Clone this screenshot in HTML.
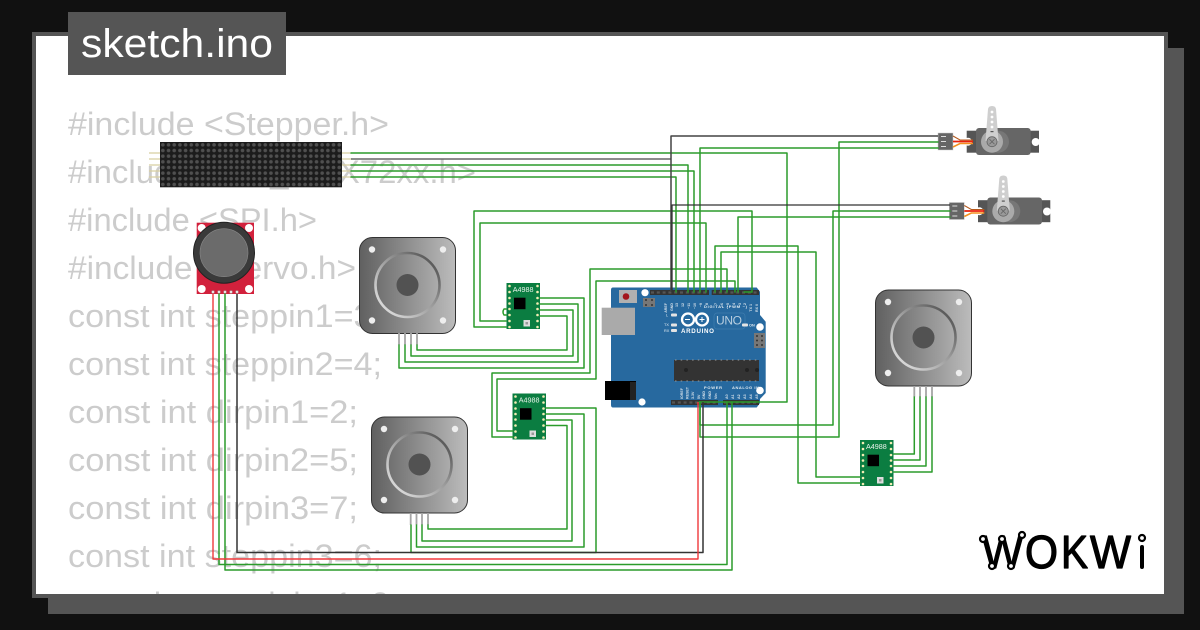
<!DOCTYPE html>
<html>
<head>
<meta charset="utf-8">
<style>
html,body{margin:0;padding:0;background:#111;width:1200px;height:630px;overflow:hidden}
svg{display:block}
.code{font-family:"Liberation Sans",sans-serif;font-size:32px;fill:#ccc}
.w{fill:none;stroke:#2b9c2b;stroke-width:1.5;stroke-linejoin:round;stroke-linecap:round}
.lb{font-family:"Liberation Sans",sans-serif;font-size:3.6px;font-weight:bold;fill:#d5e0ea}
.a{font-family:"Liberation Sans",sans-serif;font-size:7.2px;fill:#e8f2ea}
</style>
</head>
<body>
<svg xmlns="http://www.w3.org/2000/svg" width="1200" height="630" viewBox="0 0 1200 630">
<defs>
<clipPath id="fr"><rect x="36" y="36" width="1128" height="558"/></clipPath>
<pattern id="mx" patternUnits="userSpaceOnUse" x="160" y="142" width="5.69" height="5.66">
<rect width="5.69" height="5.66" fill="#1c1c1c"/><circle cx="2.85" cy="2.83" r="1.8" fill="#505050"/>
</pattern>
<linearGradient id="mg" x1="0" y1="0" x2="1" y2="0"><stop offset="0" stop-color="#606060"/><stop offset="1" stop-color="#bcbcbc"/></linearGradient>
<linearGradient id="ring" x1="0" y1="1" x2="1" y2="0"><stop offset="0" stop-color="#ececec"/><stop offset=".55" stop-color="#999"/><stop offset="1" stop-color="#404040"/></linearGradient>
<g id="motor">
<rect x="0.5" y="0.5" width="96" height="96" rx="13" fill="url(#mg)" stroke="#333" stroke-width="1"/>
<circle cx="13" cy="12.5" r="3.2" fill="#eee"/><circle cx="84" cy="12.5" r="3.2" fill="#eee"/>
<circle cx="13" cy="83.5" r="3.2" fill="#eee"/><circle cx="84" cy="83.5" r="3.2" fill="#eee"/>
<circle cx="48.5" cy="48" r="32" fill="none" stroke="url(#ring)" stroke-width="2.6"/>
<circle cx="48.5" cy="48" r="11" fill="#525252"/>
</g>
<g id="drv">
<rect width="33.5" height="46" fill="#0b7d41"/>
<g fill="#f4edb4">
<circle cx="3" cy="3" r="1.3"/><circle cx="3" cy="9" r="1.3"/><circle cx="3" cy="15" r="1.3"/><circle cx="3" cy="20.5" r="1.3"/><circle cx="3" cy="26" r="1.3"/><circle cx="3" cy="32" r="1.3"/><circle cx="3" cy="38" r="1.3"/><circle cx="3" cy="44" r="1.3"/>
<circle cx="31" cy="3" r="1.3"/><circle cx="31" cy="9" r="1.3"/><circle cx="31" cy="15" r="1.3"/><circle cx="31" cy="20.5" r="1.3"/><circle cx="31" cy="26" r="1.3"/><circle cx="31" cy="32" r="1.3"/><circle cx="31" cy="38" r="1.3"/><circle cx="31" cy="44" r="1.3"/>
</g>
<rect x="7.5" y="14.7" width="11.5" height="11.5" fill="#000"/>
<rect x="17" y="37" width="6.5" height="6.5" fill="#ddd"/><rect x="19" y="39" width="2.5" height="2.5" fill="#999"/>
</g>
<g id="servo">
<rect x="0" y="0" width="15" height="17" fill="#666" stroke="#ccc" stroke-width=".5"/>
<rect x="3" y="3" width="5" height="1" fill="#ddd"/><rect x="3" y="8" width="5" height="1" fill="#ddd"/><rect x="3" y="13" width="5" height="1" fill="#ddd"/>
<rect x="28.7" y="-2.3" width="72.3" height="22" fill="#555"/>
<circle cx="30" cy="8.7" r="4" fill="#fff"/>
<path d="M15,3 L22,7 H35" fill="none" stroke="#b5591c" stroke-width="1.1"/>
<path d="M15,8.5 H35" fill="none" stroke="#e8200c" stroke-width="1.8"/>
<path d="M15,14 L22,10.5 H35" fill="none" stroke="#f5901e" stroke-width="1.6"/>
<rect x="38" y="-5" width="54.7" height="27" rx="3" fill="#666"/>
<circle cx="97.7" cy="9" r="4" fill="#fff"/><rect x="97.7" y="7.5" width="4" height="3" fill="#fff"/>
<circle cx="60" cy="8.7" r="11" fill="#777"/>
<circle cx="54" cy="8.7" r="11" fill="#aaa"/>
<path d="M47.5,8 L50,-24 Q50.5,-27 54,-27 Q57.5,-27 58,-24 L60.5,8 Z" fill="#cfcfcf"/>
<circle cx="54" cy="-21" r="1.4" fill="#fff"/><circle cx="54" cy="-16" r="1.4" fill="#fff"/><circle cx="54" cy="-11" r="1.4" fill="#fff"/><circle cx="54" cy="-6" r="1.4" fill="#fff"/><rect x="52.5" y="-2" width="3" height="1.2" fill="#555"/>
<circle cx="54" cy="8.7" r="5" fill="#999" stroke="#666" stroke-width=".8"/>
<path d="M51.5,6.2 L56.5,11.2 M56.5,6.2 L51.5,11.2" stroke="#666" stroke-width=".8"/>
</g>
</defs>

<rect width="1200" height="630" fill="#111"/>
<rect x="48" y="48" width="1136" height="566" fill="#555"/>
<rect x="34" y="34" width="1132" height="562" fill="#fff" stroke="#555" stroke-width="4"/>

<g clip-path="url(#fr)">
<text class="code" x="68" y="135" textLength="321" lengthAdjust="spacingAndGlyphs">#include &lt;Stepper.h&gt;</text>
<text class="code" x="68" y="183" textLength="408" lengthAdjust="spacingAndGlyphs">#include &lt;MD_MAX72xx.h&gt;</text>
<text class="code" x="68" y="231" textLength="249" lengthAdjust="spacingAndGlyphs">#include &lt;SPI.h&gt;</text>
<text class="code" x="68" y="279" textLength="288" lengthAdjust="spacingAndGlyphs">#include &lt;Servo.h&gt;</text>
<text class="code" x="68" y="327" textLength="314" lengthAdjust="spacingAndGlyphs">const int steppin1=3;</text>
<text class="code" x="68" y="375" textLength="314" lengthAdjust="spacingAndGlyphs">const int steppin2=4;</text>
<text class="code" x="68" y="423" textLength="290" lengthAdjust="spacingAndGlyphs">const int dirpin1=2;</text>
<text class="code" x="68" y="471" textLength="290" lengthAdjust="spacingAndGlyphs">const int dirpin2=5;</text>
<text class="code" x="68" y="519" textLength="290" lengthAdjust="spacingAndGlyphs">const int dirpin3=7;</text>
<text class="code" x="68" y="567" textLength="314" lengthAdjust="spacingAndGlyphs">const int steppin3=6;</text>
<text class="code" x="68" y="615" textLength="330" lengthAdjust="spacingAndGlyphs">const int stepdelay1=2;</text>
</g>

<!-- title -->
<rect x="68" y="12" width="218" height="63" fill="#555"/>
<text x="81" y="57" font-family="'Liberation Sans',sans-serif" font-size="40" fill="#fff" textLength="192" lengthAdjust="spacingAndGlyphs">sketch.ino</text>

<!-- matrix -->
<g stroke="#d8cfa0" stroke-width="1.3">
<path d="M149,153H160M149,159H160M149,165H160M149,171H160M149,177H160"/>
<path d="M342,153H352M342,159H352M342,165H352M342,171H352M342,177H352"/>
</g>
<rect x="160" y="142" width="182" height="45.3" fill="url(#mx)"/>

<!-- joystick -->
<rect x="196.7" y="222.7" width="57.3" height="71.3" fill="#d2213c"/>
<circle cx="201.7" cy="228" r="4" fill="#fff"/><circle cx="249" cy="228" r="4" fill="#fff"/>
<circle cx="201.7" cy="289" r="4" fill="#fff"/><circle cx="249" cy="289" r="4" fill="#fff"/>
<g fill="#eee" stroke="#b08a8a" stroke-width=".6"><circle cx="213" cy="292" r="1.4"/><circle cx="219" cy="292" r="1.4"/><circle cx="225" cy="292" r="1.4"/><circle cx="231" cy="292" r="1.4"/><circle cx="237" cy="292" r="1.4"/></g>
<circle cx="224" cy="252.7" r="30.5" fill="#3a3a3a" stroke="#222" stroke-width="1"/>
<circle cx="224" cy="252.7" r="24" fill="#6b6b6b" stroke="#888" stroke-width=".6"/>

<!-- motors -->
<use href="#motor" x="359" y="237"/>
<use href="#motor" x="371" y="416.5"/>
<use href="#motor" x="875" y="289.5"/>
<g stroke="#a5a5a5" stroke-width="1.8">
<path d="M399,333V345M405,333V345M411,333V345M417,333V345"/>
<path d="M410.7,513V525M416.5,513V525M422,513V525M428,513V525"/>
<path d="M914.3,386V397M920,386V397M926,386V397M932,386V397"/>
</g>

<!-- drivers -->
<use href="#drv" x="506.5" y="283"/>
<use href="#drv" x="512.5" y="393.5"/>
<use href="#drv" x="860" y="440"/>
<text class="a" x="512.7" y="292">A4988</text>
<text class="a" x="518.7" y="402.5">A4988</text>
<text class="a" x="866" y="449">A4988</text>

<!-- board -->
<path d="M613,287.5 H756.7 L760,291.7 V315 L765.7,321.7 V393 L760,399 V403 L756.7,407.5 H613 Q611,407.5 611,405 V290 Q611,287.5 613,287.5 Z" fill="#27699f"/>
<rect x="601.7" y="307.7" width="33.3" height="27.3" fill="#aaa"/>
<rect x="605" y="381" width="31" height="19" fill="#000"/><rect x="630" y="382" width="6" height="18" fill="#222"/>
<rect x="619" y="290" width="18" height="13" fill="#b0b0b0"/><circle cx="626" cy="296.5" r="3.3" fill="#a3161c"/>
<circle cx="645" cy="292.7" r="3.6" fill="#fff"/><circle cx="760" cy="327" r="3.8" fill="#fff"/><circle cx="760" cy="390.5" r="3.8" fill="#fff"/><circle cx="642" cy="402" r="3.6" fill="#fff"/>
<g fill="#333"><rect x="650" y="290" width="59" height="5"/><rect x="711.7" y="290" width="47.3" height="5"/><rect x="671" y="400" width="47" height="5"/><rect x="723" y="400" width="36" height="5"/></g>
<g stroke="#555" stroke-width="2.2" stroke-dasharray="3 2.8"><path d="M651,292.5H708M713,292.5H758M672,402.5H717M724,402.5H758"/></g>
<g fill="#777"><rect x="643" y="298" width="12" height="9"/><rect x="754" y="333" width="11" height="15"/></g>
<g fill="#333"><circle cx="646" cy="300" r="1"/><circle cx="652" cy="300" r="1"/><circle cx="646" cy="305" r="1"/><circle cx="652" cy="305" r="1"/><circle cx="757" cy="336" r="1"/><circle cx="762" cy="336" r="1"/><circle cx="757" cy="340.5" r="1"/><circle cx="762" cy="340.5" r="1"/><circle cx="757" cy="345" r="1"/><circle cx="762" cy="345" r="1"/></g>
<rect x="674" y="360" width="85" height="21" fill="#333"/>
<g stroke="#999" stroke-width="1" stroke-dasharray="1.5 4.2"><path d="M675,360H759M675,381H759"/></g>
<circle cx="686" cy="370" r="2" fill="#222"/><circle cx="747" cy="370" r="2" fill="#222"/><circle cx="757" cy="370" r="2" fill="#222"/>
<circle cx="688" cy="319.5" r="6" fill="none" stroke="#fff" stroke-width="2.3"/><circle cx="702" cy="319.5" r="6" fill="none" stroke="#fff" stroke-width="2.3"/>
<path d="M685,319.5h5M699.5,319.5h5M702,317v5" stroke="#fff" stroke-width="1"/>
<text x="681" y="333" font-family="'Liberation Sans',sans-serif" font-size="6.2" font-weight="bold" fill="#fff" textLength="33">ARDUINO</text>
<rect x="714" y="313" width="31" height="16" rx="3" fill="none" stroke="#3f7dae" stroke-width=".7"/>
<text x="716" y="324.5" font-family="'Liberation Sans',sans-serif" font-size="12" fill="#b9cfe0" textLength="26">UNO</text>
<text x="704" y="308" font-family="'Liberation Sans',sans-serif" font-size="4" font-weight="bold" fill="#e4edf3" textLength="43">DIGITAL (PWM ~)</text>
<text x="704" y="389" font-family="'Liberation Sans',sans-serif" font-size="4" font-weight="bold" fill="#e4edf3" textLength="18">POWER</text>
<text x="732" y="389" font-family="'Liberation Sans',sans-serif" font-size="4" font-weight="bold" fill="#e4edf3" textLength="27">ANALOG IN</text>
<text x="749" y="326.5" font-family="'Liberation Sans',sans-serif" font-size="3.8" font-weight="bold" fill="#e4edf3">ON</text>
<text x="666" y="316.5" font-family="'Liberation Sans',sans-serif" font-size="3.8" fill="#e4edf3">L</text>
<text x="664" y="326" font-family="'Liberation Sans',sans-serif" font-size="3.8" fill="#e4edf3">TX</text>
<text x="664" y="332" font-family="'Liberation Sans',sans-serif" font-size="3.8" fill="#e4edf3">RX</text>
<g fill="#e4e4e4"><rect x="671" y="313.5" width="6" height="3" rx="1"/><rect x="671" y="323.5" width="6" height="3" rx="1"/><rect x="671" y="329" width="6" height="3" rx="1"/><rect x="742" y="323.5" width="6" height="3" rx="1"/></g>
<text class="lb" text-anchor="end" transform="translate(667,303) rotate(-90)">AREF</text>
<text class="lb" text-anchor="end" transform="translate(673,303) rotate(-90)">GND</text>
<text class="lb" text-anchor="end" transform="translate(678,303) rotate(-90)">13</text>
<text class="lb" text-anchor="end" transform="translate(684,303) rotate(-90)">12</text>
<text class="lb" text-anchor="end" transform="translate(690,303) rotate(-90)">~11</text>
<text class="lb" text-anchor="end" transform="translate(696,303) rotate(-90)">~10</text>
<text class="lb" text-anchor="end" transform="translate(702,303) rotate(-90)">~9</text>
<text class="lb" text-anchor="end" transform="translate(708,303) rotate(-90)">8</text>
<text class="lb" text-anchor="end" transform="translate(717,303) rotate(-90)">7</text>
<text class="lb" text-anchor="end" transform="translate(723,303) rotate(-90)">~6</text>
<text class="lb" text-anchor="end" transform="translate(729,303) rotate(-90)">~5</text>
<text class="lb" text-anchor="end" transform="translate(735,303) rotate(-90)">4</text>
<text class="lb" text-anchor="end" transform="translate(741,303) rotate(-90)">~3</text>
<text class="lb" text-anchor="end" transform="translate(746,303) rotate(-90)">2</text>
<text class="lb" text-anchor="end" transform="translate(752,304) rotate(-90)">TX 1</text>
<text class="lb" text-anchor="end" transform="translate(758,304) rotate(-90)">RX 0</text>
<text class="lb" transform="translate(683,399) rotate(-90)">IOREF</text>
<text class="lb" transform="translate(688.5,399) rotate(-90)">RESET</text>
<text class="lb" transform="translate(694,399) rotate(-90)">3.3V</text>
<text class="lb" transform="translate(700,399) rotate(-90)">5V</text>
<text class="lb" transform="translate(705,399) rotate(-90)">GND</text>
<text class="lb" transform="translate(711,399) rotate(-90)">GND</text>
<text class="lb" transform="translate(717,399) rotate(-90)">Vin</text>
<text class="lb" transform="translate(728,399) rotate(-90)">A0</text>
<text class="lb" transform="translate(734,399) rotate(-90)">A1</text>
<text class="lb" transform="translate(740,399) rotate(-90)">A2</text>
<text class="lb" transform="translate(746,399) rotate(-90)">A3</text>
<text class="lb" transform="translate(752,399) rotate(-90)">A4</text>
<text class="lb" transform="translate(758,399) rotate(-90)">A5</text>

<!-- servos -->
<use href="#servo" x="938" y="133"/>
<use href="#servo" x="949.3" y="202.5"/>

<!-- wires -->
<g class="w">
<path d="M351,153H787V402H699"/>
<path d="M351,165H688V292"/>
<path d="M351,171H694V292"/>
<path d="M351,177H676V292"/>
<path d="M700,292V148H938"/>
<path d="M738,292V217H950"/>
<path d="M700,402V425H833V211H950"/>
<path d="M700,402V437H839V142H938"/>
<path d="M506,327H474V211H752V292H744"/>
<path d="M506,321H480V223H706V292"/>
<path d="M513,437H492V373H590V269H727V292"/>
<path d="M513,431H497V379H596V281H735V292"/>
<path d="M715,292V246H798V483H860"/>
<path d="M721,292V252H816V477H860"/>
<path d="M540,298H584V368H399V345"/>
<path d="M540,304H578V362H405V345"/>
<path d="M540,310H573V356H411V345"/>
<path d="M540,316H567V350H417V345"/>
<path d="M506,309H504Q502,312 504,315H506"/>
<path d="M546,408H596V552.5H411V525"/>
<path d="M546,414H584V547H416.5V525"/>
<path d="M546,420H572V541H422V525"/>
<path d="M546,425.5H567V529H428V525"/>
<path d="M894,454H914.3V397"/>
<path d="M894,460H920V397"/>
<path d="M894,466H926V397"/>
<path d="M894,472H932V397"/>
<path d="M219,294V564.5H727V402"/>
<path d="M225,294V570H732V402"/>
</g>
<path d="M351,159H671" fill="none" stroke="#666" stroke-width="1.4"/>
<path d="M671,292V136H938" fill="none" stroke="#444" stroke-width="1.5" stroke-linejoin="round"/>
<path d="M672,292V205H950" fill="none" stroke="#333" stroke-width="1.3" stroke-linejoin="round"/>
<path d="M237,294V552.5H703V402" fill="none" stroke="#333" stroke-width="1.5" stroke-linejoin="round"/>
<path d="M213,294V559H698V402" fill="none" stroke="#f0393c" stroke-width="1.4" stroke-linejoin="round"/>

<!-- logo -->
<g font-family="'Liberation Sans',sans-serif" font-size="46" fill="#000" stroke="#000" stroke-width="1.2" stroke-linejoin="round">
<text x="982" y="568" textLength="41" lengthAdjust="spacingAndGlyphs">W</text>
<text x="1025" y="568" textLength="33" lengthAdjust="spacingAndGlyphs">O</text>
<text x="1061" y="568" textLength="27" lengthAdjust="spacingAndGlyphs">K</text>
<text x="1090" y="568" textLength="41" lengthAdjust="spacingAndGlyphs">W</text>
</g>
<path d="M1142,547V567" stroke="#000" stroke-width="4" stroke-linecap="round"/>
<g fill="#fff" stroke="#000" stroke-width="2.2">
<circle cx="983" cy="539" r="3"/><circle cx="1002" cy="539" r="3"/><circle cx="1022" cy="535" r="3"/><circle cx="992" cy="566" r="3"/><circle cx="1011" cy="566" r="3"/><circle cx="1142" cy="538" r="3"/>
</g>
</svg>
</body>
</html>
